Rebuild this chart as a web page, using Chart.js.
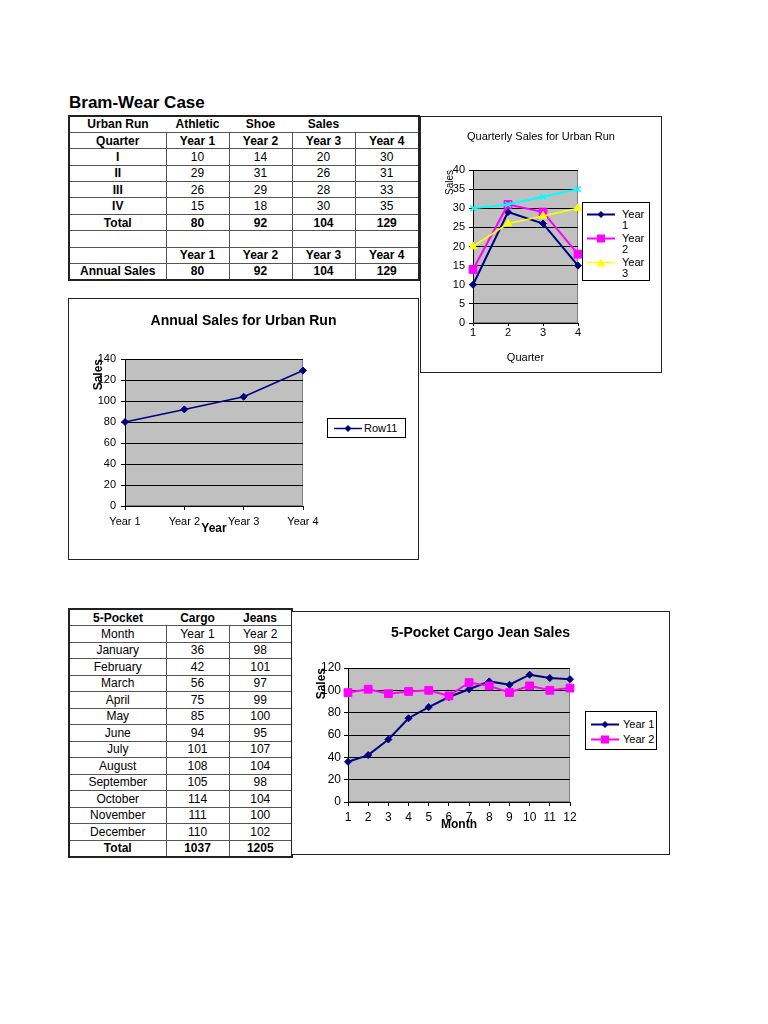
<!DOCTYPE html>
<html>
<head>
<meta charset="utf-8">
<script src="https://cdn.jsdelivr.net/npm/chart.js@4.4.0/dist/chart.umd.min.js"></script>
<style>
  body { margin: 0; width: 768px; height: 1024px; background: #fff; position: relative; font-family: "Liberation Sans", Arial, sans-serif; color: #000; }
  .caseTitle { position: absolute; left: 69px; top: 93px; font-size: 17px; line-height: 20px; font-weight: bold; }
  table { position: absolute; border-collapse: collapse; table-layout: fixed; font-size: 12px; border: 2px solid #222; }
  td { border: 1px solid #555; padding: 0; text-align: center; line-height: 14px; white-space: nowrap; overflow: hidden; }
  tr.head td { border-left: none; border-right: none; }
  .b, .b td { font-weight: bold; }
  #urbanTable { left: 68px; top: 115px; width: 351px; }
  #urbanTable tr { height: 16.4px; }
  #jeansTable { left: 68px; top: 608px; width: 224px; }
  #jeansTable tr { height: 16.5px; }
  .box { position: absolute; border: 1px solid #222; box-sizing: border-box; background: #fff; }
  .box canvas { position: absolute; left: 0; top: 0; }
  .legend { position: absolute; border: 1px solid #000; background: #fff; box-sizing: border-box; font-size: 11px; }
  .legend .item { position: absolute; }
  .legend .item svg { position: absolute; left: 0; top: 0; }
  .legend .item span { position: absolute; line-height: 11px; }
</style>
</head>
<body>
<div class="caseTitle">Bram-Wear Case</div>
<table id="urbanTable">
  <colgroup><col style="width:97px"><col style="width:63px"><col style="width:63px"><col style="width:63px"><col style="width:64px"></colgroup>
  <tbody></tbody>
</table>
<table id="jeansTable">
  <colgroup><col style="width:97px"><col style="width:63px"><col style="width:63px"></colgroup>
  <tbody></tbody>
</table>

<div class="box" style="left:420px; top:116px; width:242px; height:257px;">
  <canvas id="quarterlyChart" width="240" height="255"></canvas>
</div>
<div class="box" style="left:68px; top:298px; width:351px; height:262px;">
  <canvas id="annualChart" width="349" height="260"></canvas>
</div>
<div class="box" style="left:291px; top:611px; width:379px; height:244px;">
  <canvas id="jeansChart" width="377" height="242"></canvas>
</div>

<script>
const quarters = ['1', '2', '3', '4']
const quarterNames = ['I', 'II', 'III', 'IV']
const yearLabels = ['Year 1', 'Year 2', 'Year 3', 'Year 4']
const year1Quarterly = [10, 29, 26, 15]
const year2Quarterly = [14, 31, 29, 18]
const year3Quarterly = [20, 26, 28, 30]
const year4Quarterly = [30, 31, 33, 35]
const annualSales = [80, 92, 104, 129]

const months = ['January', 'February', 'March', 'April', 'May', 'June', 'July', 'August', 'September', 'October', 'November', 'December']
const monthNumbers = ['1', '2', '3', '4', '5', '6', '7', '8', '9', '10', '11', '12']
const jeansYear1 = [36, 42, 56, 75, 85, 94, 101, 108, 105, 114, 111, 110]
const jeansYear2 = [98, 101, 97, 99, 100, 95, 107, 104, 98, 104, 100, 102]

const navy = '#000080'
const magenta = '#ff00ff'
const yellow = '#ffff00'
const cyan = '#00ffff'

function soma(lista) {
  return lista.reduce((a, b) => a + b, 0)
}

function linha(celulas, classe) {
  return '<tr' + (classe ? ' class="' + classe + '"' : '') + '>' + celulas.map(c => '<td>' + c + '</td>').join('') + '</tr>'
}

// tables
const quarterlyByYear = [year1Quarterly, year2Quarterly, year3Quarterly, year4Quarterly]
let urbanRows = ''
urbanRows += linha(['Urban Run', 'Athletic', 'Shoe', 'Sales', ''], 'head b')
urbanRows += linha(['Quarter'].concat(yearLabels), 'b')
quarterNames.forEach((q, i) => {
  urbanRows += '<tr><td class="b">' + q + '</td>' + quarterlyByYear.map(s => '<td>' + s[i] + '</td>').join('') + '</tr>'
})
urbanRows += linha(['Total'].concat(quarterlyByYear.map(soma)), 'b')
urbanRows += linha(['', '', '', '', ''])
urbanRows += linha([''].concat(yearLabels), 'b')
urbanRows += linha(['Annual Sales'].concat(annualSales), 'b')
document.querySelector('#urbanTable tbody').innerHTML = urbanRows

let jeansRows = ''
jeansRows += linha(['5-Pocket', 'Cargo', 'Jeans'], 'head b')
jeansRows += linha(['Month', 'Year 1', 'Year 2'])
months.forEach((m, i) => {
  jeansRows += linha([m, jeansYear1[i], jeansYear2[i]])
})
jeansRows += linha(['Total', soma(jeansYear1), soma(jeansYear2)], 'b')
document.querySelector('#jeansTable tbody').innerHTML = jeansRows

// legends (html boxes)
function simbolo(cor, forma, largura) {
  let marca = ''
  if (forma === 'diamond') marca = '<polygon points="14,1 17.5,4.5 14,8 10.5,4.5" fill="' + cor + '"/>'
  if (forma === 'square') marca = '<rect x="10" y="0.5" width="8" height="8" fill="' + cor + '"/>'
  if (forma === 'triangle') marca = '<polygon points="14,0.5 18.5,8.5 9.5,8.5" fill="' + cor + '"/>'
  return '<svg width="28" height="9" xmlns="http://www.w3.org/2000/svg"><line x1="0" y1="4.5" x2="28" y2="4.5" stroke="' + cor + '" stroke-width="' + largura + '"/>' + marca + '</svg>'
}

function criarLegenda(caixa, itens, textoX, textoLargura) {
  const div = document.createElement('div')
  div.className = 'legend'
  div.style.left = caixa[0] + 'px'
  div.style.top = caixa[1] + 'px'
  div.style.width = caixa[2] + 'px'
  div.style.height = caixa[3] + 'px'
  itens.forEach(item => {
    const el = document.createElement('div')
    el.className = 'item'
    el.style.left = item.x + 'px'
    el.style.top = (item.y - 4.5) + 'px'
    el.innerHTML = simbolo(item.cor, item.forma, item.largura) +
      '<span style="left:' + (textoX - item.x) + 'px; top:-1px; width:' + textoLargura + 'px; white-space:normal;">' + item.texto + '</span>'
    div.appendChild(el)
  })
  document.body.appendChild(div)
}

criarLegenda([582, 202, 68, 79], [
  { x: 4, y: 11, cor: navy, forma: 'diamond', largura: 2, texto: 'Year 1' },
  { x: 4, y: 35, cor: magenta, forma: 'square', largura: 2, texto: 'Year 2' },
  { x: 4, y: 59, cor: yellow, forma: 'triangle', largura: 1.5, texto: 'Year 3' }
], 39, 26)

criarLegenda([327, 418, 79, 20], [
  { x: 6, y: 9.5, cor: navy, forma: 'diamond', largura: 1.5, texto: 'Row11' }
], 36, 40)

criarLegenda([585, 711, 72, 39], [
  { x: 5, y: 12, cor: navy, forma: 'diamond', largura: 2, texto: 'Year 1' },
  { x: 5, y: 27, cor: magenta, forma: 'square', largura: 2, texto: 'Year 2' }
], 37, 34)

// charts
Chart.defaults.font.family = '"Liberation Sans", Arial, sans-serif'
Chart.defaults.color = '#000'

const fundoCinza = {
  id: 'fundoCinza',
  beforeDraw(chart) {
    const { ctx, chartArea: a } = chart
    ctx.save()
    ctx.fillStyle = '#c0c0c0'
    ctx.fillRect(a.left, a.top, a.right - a.left, a.bottom - a.top)
    ctx.strokeStyle = '#808080'
    ctx.lineWidth = 1
    ctx.strokeRect(a.left + 0.5, a.top + 0.5, a.right - a.left - 1, a.bottom - a.top - 1)
    ctx.restore()
  }
}

function eixoY(max, passo, fonte, largura, titulo, tituloFonte, tituloPad, tickPad) {
  return {
    min: 0,
    max: max,
    ticks: { stepSize: passo, padding: tickPad, font: { size: fonte } },
    grid: { color: '#000', lineWidth: 1, tickLength: 4 },
    border: { color: '#000', width: 1 },
    title: { display: true, text: titulo, align: 'end', font: tituloFonte, padding: { top: tituloPad, bottom: 0 } },
    afterFit(scale) { scale.width = largura }
  }
}

// empty right axis, only keeps room for the html legend so the title stays centred
function espacoDireita(largura) {
  return {
    position: 'right',
    ticks: { display: false },
    grid: { display: false, drawTicks: false },
    border: { display: false },
    afterFit(scale) { scale.width = largura }
  }
}

function eixoX(fonte, altura, titulo, tituloFonte, tituloPad, tickPad, tickLen) {
  return {
    offset: false,
    ticks: { padding: tickPad, font: { size: fonte }, maxRotation: 0, autoSkip: false },
    grid: { drawOnChartArea: false, color: '#000', tickLength: tickLen },
    border: { color: '#000', width: 1 },
    title: { display: true, text: titulo, font: tituloFonte, padding: { top: 0, bottom: tituloPad } },
    afterFit(scale) { scale.height = altura }
  }
}

function serie(label, data, cor, estilo, raio, largura, ordem) {
  return {
    label: label,
    data: data,
    yAxisID: 'y',
    borderColor: cor,
    backgroundColor: cor,
    pointStyle: estilo,
    pointRadius: raio,
    pointBorderColor: cor,
    pointBackgroundColor: cor,
    pointBorderWidth: estilo === 'crossRot' ? 1.5 : 1,
    borderWidth: largura,
    tension: 0,
    clip: false,
    order: ordem
  }
}

function opcoes(baixo, titulo, escalas) {
  return {
    responsive: false,
    animation: false,
    devicePixelRatio: 1,
    layout: { padding: { left: 0, right: 0, top: 0, bottom: baixo } },
    plugins: { legend: { display: false }, tooltip: { enabled: false }, title: titulo },
    scales: escalas
  }
}

new Chart(document.querySelector('#quarterlyChart'), {
  type: 'line',
  data: {
    labels: quarters,
    datasets: [
      serie('Year 1', year1Quarterly, navy, 'rectRot', 3.5, 2, 4),
      serie('Year 2', year2Quarterly, magenta, 'rect', 5.5, 2, 3),
      serie('Year 3', year3Quarterly, yellow, 'triangle', 4.5, 1.5, 2),
      serie('Year 4', year4Quarterly, cyan, 'crossRot', 4, 2, 1)
    ]
  },
  options: opcoes(6,
    { display: true, text: 'Quarterly Sales for Urban Run', font: { size: 11, weight: 'normal' }, padding: { top: 13, bottom: 26.8 } },
    {
      x: eixoX(11, 43, 'Quarter', { size: 11 }, 1, 0, 3),
      y: eixoY(40, 5, 11, 52, 'Sales', { size: 10 }, 23, 4),
      direita: espacoDireita(83)
    }),
  plugins: [fundoCinza]
})

new Chart(document.querySelector('#annualChart'), {
  type: 'line',
  data: {
    labels: yearLabels,
    datasets: [serie('Row11', annualSales, navy, 'rectRot', 3.5, 1.5, 1)]
  },
  options: opcoes(22,
    { display: true, text: 'Annual Sales for Urban Run', font: { size: 14, weight: 'bold' }, padding: { top: 13.6, bottom: 29.6 } },
    {
      x: eixoX(11, 31, 'Year', { size: 12, weight: 'bold' }, 1, 5, 4),
      y: eixoY(140, 20, 11, 56, 'Sales', { size: 12, weight: 'bold' }, 22.5, 5),
      direita: espacoDireita(115)
    }),
  plugins: [fundoCinza]
})

new Chart(document.querySelector('#jeansChart'), {
  type: 'line',
  data: {
    labels: monthNumbers,
    datasets: [
      serie('Year 1', jeansYear1, navy, 'rectRot', 3.5, 2, 2),
      serie('Year 2', jeansYear2, magenta, 'rect', 5.5, 2, 1)
    ]
  },
  options: opcoes(21,
    { display: true, text: '5-Pocket Cargo Jean Sales', font: { size: 14, weight: 'bold' }, padding: { top: 12.6, bottom: 26.6 } },
    {
      x: eixoX(12, 31, 'Month', { size: 12, weight: 'bold' }, 1, 4, 4),
      y: eixoY(120, 20, 12, 56, 'Sales', { size: 12, weight: 'bold' }, 22.5, 3),
      direita: espacoDireita(99)
    }),
  plugins: [fundoCinza]
})
</script>
</body>
</html>
